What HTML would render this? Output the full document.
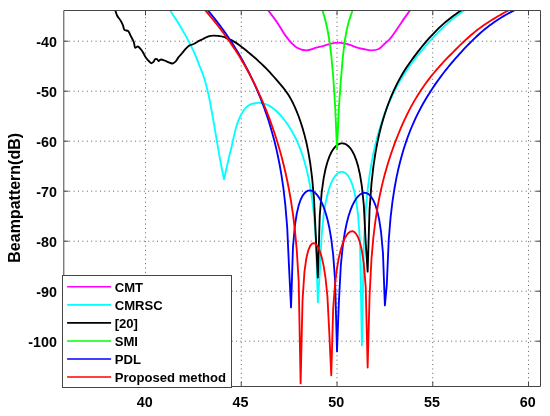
<!DOCTYPE html>
<html lang="en"><head><meta charset="utf-8"><title>Beampattern</title>
<style>html,body{margin:0;padding:0;background:#fff}svg{display:block}</style></head>
<body>
<svg width="550" height="416" viewBox="0 0 550 416">
<rect width="550" height="416" fill="#fff"/>
<g fill="none" stroke="#606060" stroke-width="1" stroke-dasharray="1 3.39">
<path d="M145.50 386.50 V10.50 M241.25 386.50 V10.50 M337.00 386.50 V10.50 M432.75 386.50 V10.50 M528.50 386.50 V10.50" stroke-dashoffset="0.5"/>
<path d="M63.80 341.20 H540.50 M63.80 291.20 H540.50 M63.80 241.20 H540.50 M63.80 191.20 H540.50 M63.80 141.20 H540.50 M63.80 91.20 H540.50 M63.80 41.20 H540.50" stroke-dashoffset="3.37"/>
</g>
<defs><clipPath id="c"><rect x="63.80" y="10.50" width="476.70" height="376.00"/></clipPath></defs>
<g clip-path="url(#c)" fill="none" stroke-width="1.85" stroke-linejoin="round" stroke-linecap="butt">
<path d="M267.30 9.00C267.63 9.47 267.97 9.93 268.30 10.40C271.01 14.18 273.96 17.78 276.60 21.60C279.74 26.15 282.18 31.19 285.50 35.60C287.50 38.26 289.53 40.96 291.90 43.30C293.49 44.87 295.11 46.59 297.00 47.70C299.79 49.34 303.40 50.31 306.60 50.30C309.77 50.29 312.92 48.52 316.10 47.70C318.66 47.04 321.25 46.51 323.80 45.80C325.88 45.22 327.90 44.41 330.00 43.90C332.59 43.27 335.26 42.63 337.90 42.60C339.99 42.58 342.14 42.89 344.20 43.30C346.37 43.73 348.49 44.49 350.60 45.20C352.32 45.78 353.98 46.55 355.70 47.10C358.21 47.91 360.81 48.46 363.40 49.00C365.91 49.52 368.47 50.29 371.00 50.30C373.57 50.31 376.46 50.12 378.70 49.00C380.65 48.02 382.11 46.02 383.80 44.50C385.89 42.62 388.11 40.86 390.00 38.80C392.64 35.93 394.65 32.50 396.90 29.30C399.54 25.55 401.97 21.65 404.60 17.90C406.37 15.38 408.21 12.91 410.00 10.40C410.33 9.93 410.67 9.47 411.00 9.00" stroke="#ff00ff"/>
<path d="M169.50 9.00C169.73 9.47 169.96 9.94 170.20 10.40C172.00 13.89 174.53 16.96 176.60 20.30C178.80 23.86 180.92 27.47 183.00 31.10C185.22 34.97 187.47 38.83 189.50 42.80C191.42 46.54 193.22 50.35 194.90 54.20C196.74 58.41 198.32 62.73 200.00 67.00C201.18 70.00 202.46 72.96 203.50 76.00C204.99 80.35 206.08 84.84 207.20 89.30C208.15 93.11 209.01 96.95 209.80 100.80C210.53 104.39 211.15 108.00 211.80 111.60C212.80 117.13 213.75 122.66 214.70 128.20C215.37 132.13 216.03 136.07 216.70 140.00C217.81 146.50 218.90 153.01 220.10 159.50C221.33 166.15 222.70 172.77 224.00 179.40C225.77 171.67 227.45 163.91 229.30 156.20C229.96 153.46 230.66 150.74 231.30 148.00C232.11 144.51 232.77 140.99 233.60 137.50C234.64 133.14 235.55 128.73 237.00 124.50C238.09 121.34 239.21 118.13 240.80 115.20C242.09 112.82 243.43 110.32 245.30 108.40C246.92 106.74 248.89 105.12 251.00 104.20C252.95 103.35 255.27 103.33 257.40 102.90L260.40 102.95L262.31 103.21L264.23 103.66L266.14 104.30L268.06 105.13L269.98 106.17L271.89 107.40L273.81 108.84L275.72 110.46L277.63 112.26L279.55 114.24L281.47 116.39L283.38 118.70L285.30 121.19L287.21 123.84L289.12 126.70L291.04 129.78L292.96 133.11L294.87 136.74L296.78 140.71L298.70 145.08L300.62 149.93L302.53 155.35L304.44 161.48L306.36 168.50L308.27 176.70L310.19 186.52L312.11 198.81L314.02 215.29L315.94 240.69L317.85 302.40L319.76 272.81L321.68 234.49L323.60 215.55L325.51 203.30L327.43 194.52L329.34 187.93L331.25 182.87L333.17 178.99L335.09 176.05L337.00 173.92L338.91 172.53L340.83 171.84L342.75 171.84L344.66 172.56L346.58 174.05L348.49 176.43L350.40 179.88L352.32 184.69L354.24 191.36L356.15 200.85L358.06 215.26L359.98 241.04L361.89 345.30L363.81 244.71L365.73 210.30L367.64 189.95L369.56 175.15L371.47 163.36L373.38 153.48L375.30 144.91L377.22 137.31L379.13 130.46L381.05 124.21L382.96 118.45L384.88 113.10L386.79 108.12L388.71 103.46L390.62 99.08L392.53 94.95L394.45 91.06L396.37 87.37L398.28 83.87L400.19 80.54L402.11 77.35L404.02 74.31L405.94 71.38L407.86 68.56L409.77 65.84L411.69 63.21L413.60 60.66L415.51 58.17L417.43 55.75L419.35 53.39L421.26 51.07L423.18 48.80L425.09 46.56L427.00 44.36L428.92 42.18L430.83 40.04L432.75 37.94L434.67 35.88L436.58 33.87L438.50 31.90L440.41 29.98L442.32 28.12L444.24 26.31L446.16 24.57L448.07 22.88L449.99 21.24L451.90 19.66L453.81 18.11L455.73 16.61L457.64 15.15L459.56 13.73L461.48 12.33L463.39 10.97L465.31 9.63L467.22 8.32L469.13 7.03L471.05 5.76L472.97 4.52L474.88 3.30L476.80 2.10" stroke="#00ffff"/>
<path d="M114.80 9.00C114.97 9.47 115.13 9.93 115.30 10.40C115.94 12.20 116.33 14.12 117.20 15.80C118.04 17.42 119.45 18.73 120.40 20.30C121.39 21.93 122.28 23.64 123.00 25.40C123.60 26.86 123.44 28.96 124.50 29.90C125.34 30.66 127.15 30.40 128.10 31.10C129.39 32.05 129.79 34.09 130.60 35.60C131.72 37.71 132.90 39.80 133.80 42.00C134.55 43.85 134.30 47.96 135.70 47.70C136.23 47.60 136.99 46.59 137.60 46.50C138.70 46.35 139.80 48.11 140.70 49.10C141.74 50.24 142.48 51.67 143.30 53.00C144.19 54.43 144.85 56.01 145.80 57.40C146.75 58.78 147.76 60.19 149.00 61.30C149.79 62.01 150.72 63.29 151.60 63.20C152.23 63.14 152.96 62.43 153.50 61.90C154.26 61.15 154.29 59.42 155.20 59.10C155.67 58.93 156.41 58.93 156.90 59.10C157.64 59.35 157.97 60.96 158.60 61.00C159.18 61.04 159.82 59.83 160.50 59.60C161.63 59.22 163.07 60.01 164.30 60.40C165.65 60.82 166.88 61.60 168.20 62.10C169.64 62.64 171.23 63.80 172.60 63.50C173.51 63.30 174.43 62.54 175.20 61.90C176.59 60.74 177.27 58.85 178.40 57.40C179.59 55.88 180.94 54.47 182.20 53.00C183.48 51.51 184.61 49.87 186.00 48.50C187.18 47.34 188.37 46.07 189.80 45.30C190.99 44.66 192.46 44.57 193.70 44.00C195.04 43.39 196.20 42.40 197.50 41.70C198.73 41.04 200.05 40.53 201.30 39.90C202.55 39.27 203.74 38.52 205.00 37.90C206.15 37.33 207.29 36.68 208.50 36.30C210.12 35.79 211.89 35.65 213.60 35.60C215.29 35.55 217.01 35.79 218.70 36.00C220.41 36.22 222.19 36.34 223.80 36.90C225.12 37.36 226.31 38.22 227.60 38.80C229.26 39.55 231.06 40.01 232.70 40.80C236.07 42.42 238.97 44.97 242.00 47.20C246.86 50.78 251.33 54.87 256.00 58.70L258.49 61.10L260.40 62.84L262.31 64.64L264.23 66.49L266.14 68.41L268.06 70.40L269.98 72.46L271.89 74.58L273.81 76.75L275.72 78.95L277.63 81.17L279.55 83.40L281.47 85.64L283.38 87.96L285.30 90.42L287.21 93.09L289.12 96.05L291.04 99.35L292.96 103.03L294.87 107.09L296.78 111.57L298.70 116.51L300.62 121.94L302.53 127.92L304.44 134.64L306.36 142.41L308.27 151.62L310.19 162.98L312.11 177.80L314.02 199.17L315.94 239.14L317.85 277.50L319.76 215.47L321.68 192.44L323.60 178.60L325.51 169.03L327.43 161.99L329.34 156.63L331.25 152.49L333.17 149.31L335.09 146.91L337.00 145.17L338.91 144.01L340.83 143.40L342.75 143.31L344.66 143.73L346.58 144.68L348.49 146.20L350.40 148.34L352.32 151.21L354.24 154.95L356.15 159.79L358.06 166.11L359.98 174.56L361.89 186.46L363.81 205.01L365.73 242.98L367.64 271.60L369.56 209.63L371.47 183.72L373.38 166.68L375.30 153.79L377.22 143.33L379.13 134.47L381.05 126.75L382.96 119.88L384.88 113.68L386.79 108.01L388.71 102.79L390.62 97.93L392.53 93.39L394.45 89.14L396.37 85.14L398.28 81.38L400.19 77.84L402.11 74.50L404.02 71.35L405.94 68.34L407.86 65.47L409.77 62.70L411.69 60.02L413.60 57.41L415.51 54.86L417.43 52.36L419.35 49.91L421.26 47.51L423.18 45.16L425.09 42.87L427.00 40.64L428.92 38.46L430.83 36.33L432.75 34.27L434.67 32.27L436.58 30.33L438.50 28.45L440.41 26.63L442.32 24.87L444.24 23.17L446.16 21.53L448.07 19.94L449.99 18.41L451.90 16.94L453.81 15.51L455.73 14.14L457.64 12.80L459.56 11.50L461.48 10.22L463.39 8.98L465.31 7.75L467.22 6.55L469.13 5.38L471.05 4.23" stroke="#000000"/>
<path d="M321.68 8.00L323.60 14.00L325.51 21.00L327.43 29.50L329.34 40.00L331.25 55.00L333.17 76.00L335.08 105.00L337.00 149.00L338.92 107.00L340.83 80.60L342.75 57.90L344.66 41.50L346.57 30.90L348.49 22.50L350.40 16.60L352.32 11.00L354.24 6.00" stroke="#00ff00"/>
<path d="M193.38 -5.87L195.29 -3.83L197.20 -1.76L199.12 0.34L201.03 2.47L202.95 4.63L204.87 6.83L206.78 9.07L208.69 11.34L210.61 13.65L212.53 16.01L214.44 18.40L216.36 20.84L218.27 23.34L220.19 25.88L222.10 28.47L224.01 31.13L225.93 33.84L227.84 36.62L229.76 39.46L231.68 42.38L233.59 45.37L235.50 48.44L237.42 51.59L239.34 54.83L241.25 58.15L243.17 61.57L245.08 65.10L247.00 68.73L248.91 72.48L250.82 76.34L252.74 80.35L254.66 84.50L256.57 88.80L258.49 93.28L260.40 97.95L262.31 102.83L264.23 107.95L266.14 113.35L268.06 119.06L269.98 125.13L271.89 131.64L273.81 138.65L275.72 146.31L277.63 154.76L279.55 164.25L281.47 175.17L283.38 188.17L285.30 204.55L287.21 227.46L289.12 269.08L291.04 307.40L292.96 247.49L294.87 225.93L296.78 213.51L298.70 205.38L300.62 199.77L302.53 195.86L304.44 193.20L306.36 191.52L308.27 190.65L310.19 190.47L312.11 190.93L314.02 192.00L315.94 193.65L317.85 195.92L319.76 198.83L321.68 202.47L323.60 206.95L325.51 212.44L327.43 219.23L329.34 227.80L331.25 239.00L333.17 254.69L335.09 280.18L337.00 351.40L338.91 301.55L340.83 265.32L342.75 246.17L344.66 233.29L346.58 223.75L348.49 216.34L350.40 210.42L352.32 205.65L354.24 201.79L356.15 198.72L358.06 196.33L359.98 194.58L361.89 193.43L363.81 192.86L365.73 192.91L367.64 193.60L369.56 195.00L371.47 197.21L373.38 200.39L375.30 204.81L377.22 210.89L379.13 219.41L381.05 232.00L382.96 253.01L384.88 305.40L386.79 284.82L388.71 240.26L390.62 217.16L392.53 201.07L394.45 188.53L396.37 178.16L398.28 169.26L400.19 161.43L402.11 154.41L404.02 148.03L405.94 142.18L407.86 136.76L409.77 131.71L411.69 126.99L413.60 122.54L415.51 118.35L417.43 114.37L419.35 110.59L421.26 106.97L423.18 103.52L425.09 100.19L427.00 96.99L428.92 93.89L430.83 90.89L432.75 87.98L434.67 85.14L436.58 82.39L438.50 79.70L440.41 77.09L442.32 74.54L444.24 72.05L446.16 69.62L448.07 67.24L449.99 64.91L451.90 62.63L453.81 60.39L455.73 58.19L457.64 56.03L459.56 53.90L461.48 51.80L463.39 49.73L465.31 47.69L467.22 45.69L469.13 43.73L471.05 41.80L472.97 39.91L474.88 38.06L476.80 36.26L478.71 34.51L480.62 32.81L482.54 31.16L484.45 29.56L486.37 28.00L488.29 26.50L490.20 25.04L492.12 23.63L494.03 22.26L495.94 20.95L497.86 19.68L499.78 18.46L501.69 17.27L503.61 16.13L505.52 15.02L507.44 13.94L509.35 12.89L511.26 11.86L513.18 10.86L515.10 9.87L517.01 8.91L518.92 7.96L520.84 7.03L522.75 6.11L524.67 5.21L526.59 4.33" stroke="#0000ff"/>
<path d="M193.38 -2.70L195.29 -0.67L197.20 1.39L199.12 3.48L201.03 5.60L202.95 7.75L204.87 9.94L206.78 12.15L208.69 14.40L210.61 16.69L212.53 19.01L214.44 21.37L216.36 23.77L218.27 26.22L220.19 28.70L222.10 31.23L224.01 33.81L225.93 36.43L227.84 39.11L229.76 41.83L231.68 44.61L233.59 47.46L235.50 50.36L237.42 53.34L239.34 56.38L241.25 59.51L243.17 62.73L245.08 66.03L247.00 69.44L248.91 72.95L250.82 76.57L252.74 80.32L254.66 84.18L256.57 88.17L258.49 92.29L260.40 96.54L262.31 100.94L264.23 105.49L266.14 110.20L268.06 115.08L269.98 120.15L271.89 125.44L273.81 130.98L275.72 136.79L277.63 142.91L279.55 149.39L281.47 156.30L283.38 163.71L285.30 171.73L287.21 180.51L289.12 190.25L291.04 201.28L292.96 214.12L294.87 229.74L296.78 250.21L298.70 281.80L300.62 383.40L302.53 300.40L304.44 271.96L306.36 258.19L308.27 250.32L310.19 245.79L312.11 243.55L314.02 243.10L315.94 244.21L317.85 246.82L319.76 251.03L321.68 257.10L323.60 265.62L325.51 277.78L327.43 296.58L329.34 333.49L331.25 375.30L333.17 308.51L335.09 283.55L337.00 268.22L338.91 257.43L340.83 249.41L342.75 243.30L344.66 238.66L346.58 235.24L348.49 232.89L350.40 231.55L352.32 231.22L354.24 231.96L356.15 233.90L358.06 237.31L359.98 242.65L361.89 250.81L363.81 263.74L365.73 287.24L367.64 367.60L369.56 296.19L371.47 259.01L373.38 237.40L375.30 221.70L377.22 209.18L379.13 198.66L381.05 189.51L382.96 181.37L384.88 174.00L386.79 167.22L388.71 160.93L390.62 155.02L392.53 149.43L394.45 144.12L396.37 139.05L398.28 134.22L400.19 129.59L402.11 125.16L404.02 120.91L405.94 116.84L407.86 112.93L409.77 109.18L411.69 105.60L413.60 102.17L415.51 98.87L417.43 95.72L419.35 92.68L421.26 89.77L423.18 86.96L425.09 84.25L427.00 81.63L428.92 79.10L430.83 76.65L432.75 74.28L434.67 71.97L436.58 69.72L438.50 67.53L440.41 65.39L442.32 63.29L444.24 61.24L446.16 59.22L448.07 57.22L449.99 55.26L451.90 53.31L453.81 51.38L455.73 49.47L457.64 47.57L459.56 45.69L461.48 43.83L463.39 42.00L465.31 40.20L467.22 38.45L469.13 36.73L471.05 35.06L472.97 33.44L474.88 31.86L476.80 30.33L478.71 28.86L480.62 27.44L482.54 26.06L484.45 24.73L486.37 23.44L488.29 22.18L490.20 20.96L492.12 19.76L494.03 18.59L495.94 17.44L497.86 16.31L499.78 15.19L501.69 14.09L503.61 13.01L505.52 11.94L507.44 10.89L509.35 9.86L511.26 8.84L513.18 7.84L515.10 6.85L517.01 5.88L518.92 4.93L520.84 3.99" stroke="#ff0000"/>
</g>
<path d="M63.80 10.50 H540.50 V386.50 H63.80 Z M145.50 386.50 v-4.80 M145.50 10.50 v4.80 M241.25 386.50 v-4.80 M241.25 10.50 v4.80 M337.00 386.50 v-4.80 M337.00 10.50 v4.80 M432.75 386.50 v-4.80 M432.75 10.50 v4.80 M528.50 386.50 v-4.80 M528.50 10.50 v4.80 M63.80 341.20 h4.80 M540.50 341.20 h-4.80 M63.80 291.20 h4.80 M540.50 291.20 h-4.80 M63.80 241.20 h4.80 M540.50 241.20 h-4.80 M63.80 191.20 h4.80 M540.50 191.20 h-4.80 M63.80 141.20 h4.80 M540.50 141.20 h-4.80 M63.80 91.20 h4.80 M540.50 91.20 h-4.80 M63.80 41.20 h4.80 M540.50 41.20 h-4.80" fill="none" stroke="#454545" stroke-width="1"/>
<g font-family="'Liberation Sans', sans-serif" font-weight="bold" fill="#000000">
<g font-size="14.3" text-anchor="middle">
<text x="144.80" y="407.30">40</text>
<text x="240.55" y="407.30">45</text>
<text x="336.30" y="407.30">50</text>
<text x="432.05" y="407.30">55</text>
<text x="527.80" y="407.30">60</text>
</g>
<g font-size="14.3" text-anchor="end">
<text x="56.90" y="347.30">-100</text>
<text x="56.90" y="297.30">-90</text>
<text x="56.90" y="247.30">-80</text>
<text x="56.90" y="197.30">-70</text>
<text x="56.90" y="147.30">-60</text>
<text x="56.90" y="97.30">-50</text>
<text x="56.90" y="47.30">-40</text>
</g>
<text font-size="16.0" text-anchor="middle" transform="translate(20.10 197.80) rotate(-90)">Beampattern(dB)</text>
<rect x="62.50" y="275.50" width="169.00" height="112.00" fill="#fff" stroke="#454545" stroke-width="1"/>
<g font-size="13.1">
<path d="M67.10 286.80 H111.10" stroke="#ff00ff" stroke-width="1.6" fill="none"/>
<text x="114.70" y="291.70">CMT</text>
<path d="M67.10 304.85 H111.10" stroke="#00ffff" stroke-width="1.6" fill="none"/>
<text x="114.70" y="309.75">CMRSC</text>
<path d="M67.10 322.90 H111.10" stroke="#000000" stroke-width="1.6" fill="none"/>
<text x="114.70" y="327.80">[20]</text>
<path d="M67.10 340.95 H111.10" stroke="#00ff00" stroke-width="1.6" fill="none"/>
<text x="114.70" y="345.85">SMI</text>
<path d="M67.10 359.00 H111.10" stroke="#0000ff" stroke-width="1.6" fill="none"/>
<text x="114.70" y="363.90">PDL</text>
<path d="M67.10 377.05 H111.10" stroke="#ff0000" stroke-width="1.6" fill="none"/>
<text x="114.70" y="381.95">Proposed method</text>
</g>
</g>
</svg>
</body></html>
